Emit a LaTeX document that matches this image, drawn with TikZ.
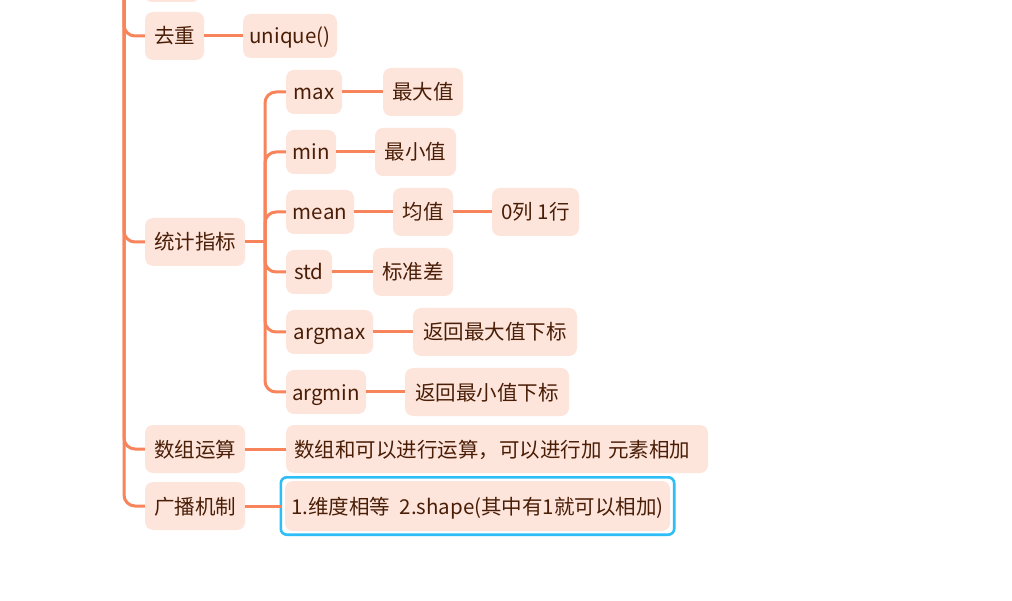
\documentclass[tikz,border=0pt]{standalone}
\usepackage{fontspec}
\setmainfont{Noto Sans CJK SC}
\definecolor{lineC}{HTML}{F7845A}
\definecolor{fillC}{HTML}{FEE5DC}
\definecolor{textC}{HTML}{4A1E06}
\definecolor{selC}{HTML}{2DBDF7}
\tikzset{
  topic/.style={fill=fillC, rounded corners=8pt, text=textC, inner xsep=0pt, inner ysep=0pt,
    minimum height=44pt, font=\fontsize{20.5}{24}\selectfont, anchor=center,
    text height=17pt, text depth=1pt},
  big/.style={topic, minimum height=48pt},
  conn/.style={draw=lineC, line width=3pt},
  elbow/.style={conn, rounded corners=11pt},
}
\begin{document}
\begin{tikzpicture}[x=1pt,y=-1pt]
\useasboundingbox (0,0) rectangle (1012,601);
\fill[white] (0,0) rectangle (1012,601);
% nodes
\node[big, minimum width=56pt] (prev) at (172,-22) {};
\node[big, minimum width=59pt] (dedup) at (174.5,36) {去重};
\node[topic, minimum width=94pt] (uniq) at (290,36) {unique()};
\node[big, minimum width=100pt] (stat) at (195,242) {统计指标};
\node[topic, minimum width=56pt] (max) at (314,92) {max};
\node[big, minimum width=80pt] (maxv) at (423,92) {最大值};
\node[topic, minimum width=50pt] (min) at (311,152) {min};
\node[big, minimum width=81pt] (minv) at (415.5,152) {最小值};
\node[topic, minimum width=68pt] (mean) at (320,212) {mean};
\node[big, minimum width=60pt] (meanv) at (423,212) {均值};
\node[big, minimum width=87pt] (axis) at (535.5,212) {0列 1行};
\node[topic, minimum width=46pt] (std) at (309,272) {std};
\node[big, minimum width=80pt] (stdv) at (413,272) {标准差};
\node[topic, minimum width=87pt] (argmax) at (329.5,332) {argmax};
\node[big, minimum width=164pt] (argmaxv) at (495,332) {返回最大值下标};
\node[topic, minimum width=80pt] (argmin) at (326,392) {argmin};
\node[big, minimum width=164pt] (argminv) at (487,392) {返回最小值下标};
\node[big, minimum width=100pt] (arr) at (195,449) {数组运算};
\node[big, inner xsep=8pt, text width=406pt, align=left] (arrv) at (497,449) {数组和可以进行运算，可以进行加 元素相加};
\node[big, minimum height=50pt, minimum width=385pt] (bcv) at (477.5,506) {1.维度相等\ \ 2.shape(其中有1就可以相加)};
\node[big, minimum width=100pt] (bc) at (195,506) {广播机制};
% selection frame
\draw[selC, line width=2.6pt, rounded corners=6pt]
  ([shift={(-4,-3.5)}]bcv.north west) rectangle ([shift={(4,3.5)}]bcv.south east);
% trunk connectors
\coordinate (trunk) at (124,-10);
\foreach \c in {dedup,stat,arr,bc} \draw[elbow] (trunk) |- (\c.west);
\draw[conn] (dedup.east) -- (uniq.west);
% statistics branch
\coordinate (hub) at (265,242);
\draw[conn] (stat.east) -- (hub);
\foreach \c in {max,min,mean,std,argmax,argmin} \draw[elbow] (hub) |- (\c.west);
\draw[conn] (max.east) -- (maxv.west);
\draw[conn] (min.east) -- (minv.west);
\draw[conn] (mean.east) -- (meanv.west);
\draw[conn] (meanv.east) -- (axis.west);
\draw[conn] (std.east) -- (stdv.west);
\draw[conn] (argmax.east) -- (argmaxv.west);
\draw[conn] (argmin.east) -- (argminv.west);
\draw[conn] (arr.east) -- (arrv.west);
\draw[conn] (bc.east) -- ([xshift=-4pt]bcv.west);
\end{tikzpicture}
\end{document}
